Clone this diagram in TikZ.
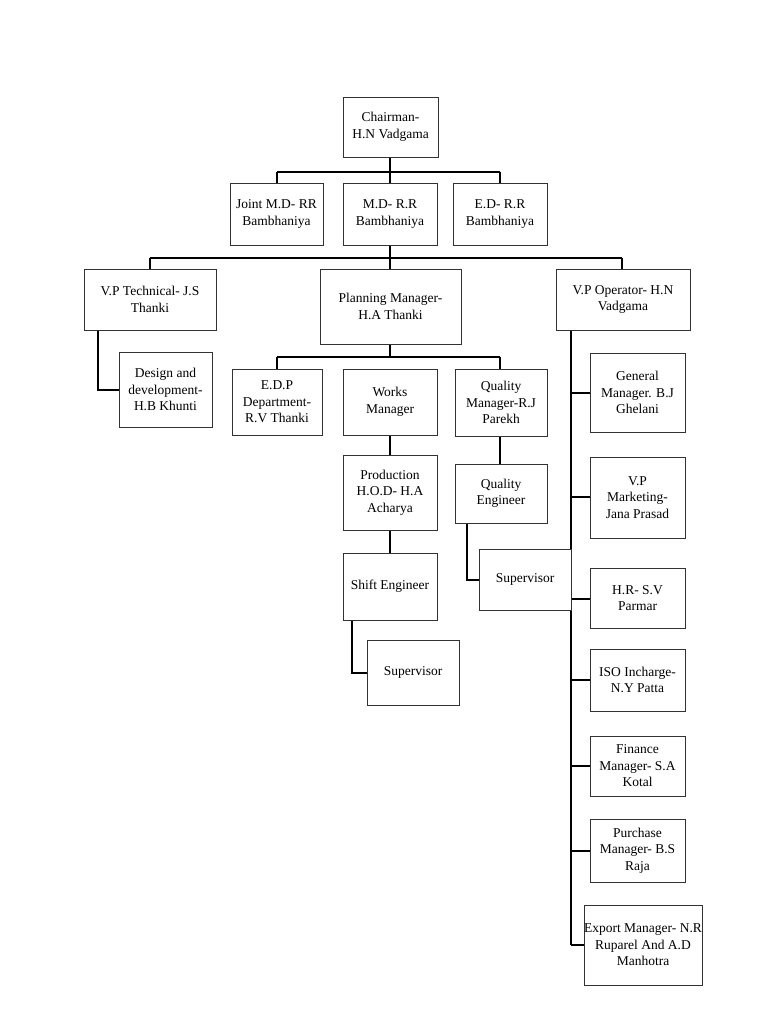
\documentclass[tikz,border=0pt]{standalone}
\usepackage{fontspec}
\setmainfont{Liberation Serif}
\begin{document}
\begin{tikzpicture}[x=1pt,y=-1pt,
 bx/.style={draw=black!80,line width=0.8pt,fill=white,align=center,inner sep=0pt,font=\fontsize{13.5}{16.5}\selectfont},
 ln/.style={line width=1.2pt}]
\useasboundingbox (0,0) rectangle (768,1024);
\newcommand\bxat[6]{\node[bx,minimum width=#4-#3,minimum height=#6-#5] (#1) at ({(#3+#4)/2},{(#5+#6)/2}) {#2};}
% connectors first
\coordinate (c1) at (390,172);
\draw[ln] (390,157) -- (390,172) (277,172) -- (500,172) (277,172) -- (277,183) (500,172) -- (500,183) (390,172)--(390,183);
\draw[ln] (390,245) -- (390,258) (150,258) -- (622,258) (150,258)--(150,269) (622,258)--(622,269) (390,258)--(390,269);
\draw[ln] (98,330) -- (98,390) -- (119,390);
\draw[ln] (390,344) -- (390,357) (277,357) -- (500,357) (277,357)--(277,369) (500,357)--(500,369);
\draw[ln] (390,435)--(390,455) (390,530)--(390,553);
\draw[ln] (352,620)--(352,673)--(367,673);
\draw[ln] (500,436)--(500,464);
\draw[ln] (467,523)--(467,580)--(479,580);
\draw[ln] (571,330)--(571,945);
\foreach \y/\xe in {393/590,497/590,599/590,680/590,766/590,851/590,945/586} \draw[ln] (571,\y)--(\xe,\y);
\bxat{ch}{Chairman-\\H.N Vadgama}{343}{438}{97}{157}
\bxat{jmd}{Joint M.D- RR\\Bambhaniya}{230}{323}{183}{245}
\bxat{md}{M.D- R.R\\Bambhaniya}{343}{437}{183}{245}
\bxat{ed}{E.D- R.R\\Bambhaniya}{453}{547}{183}{245}
\bxat{vpt}{V.P Technical- J.S\\Thanki}{84}{216}{269}{330}
\bxat{pm}{Planning Manager-\\H.A Thanki}{320}{461}{269}{344}
\bxat{vpo}{V.P Operator- H.N\\Vadgama}{556}{690}{269}{330}
\bxat{dd}{Design and\\development-\\H.B Khunti}{119}{212}{352}{427}
\bxat{edp}{E.D.P\\Department-\\R.V Thanki}{232}{322}{369}{435}
\bxat{wm}{Works\\Manager}{343}{437}{369}{435}
\bxat{qm}{Quality\\Manager-R.J\\Parekh}{455}{547}{369}{436}
\bxat{ph}{Production\\H.O.D- H.A\\Acharya}{343}{437}{455}{530}
\bxat{se}{Shift Engineer}{343}{437}{553}{620}
\bxat{s1}{Supervisor}{367}{459}{640}{705}
\bxat{qe}{Quality\\Engineer}{455}{547}{464}{523}
\bxat{s2}{Supervisor}{479}{571}{549}{610}
\bxat{gm}{General\\Manager. B.J\\Ghelani}{590}{685}{353}{432}
\bxat{vpm}{V.P\\Marketing-\\Jana Prasad}{590}{685}{457}{538}
\bxat{hr}{H.R- S.V\\Parmar}{590}{685}{568}{628}
\bxat{iso}{ISO Incharge-\\N.Y Patta}{590}{685}{649}{711}
\bxat{fm}{Finance\\Manager- S.A\\Kotal}{590}{685}{736}{796}
\bxat{pu}{Purchase\\Manager- B.S\\Raja}{590}{685}{819}{882}
\bxat{ex}{Export Manager- N.R\\Ruparel And A.D\\Manhotra}{586}{700}{905}{985}
\end{tikzpicture}
\end{document}
